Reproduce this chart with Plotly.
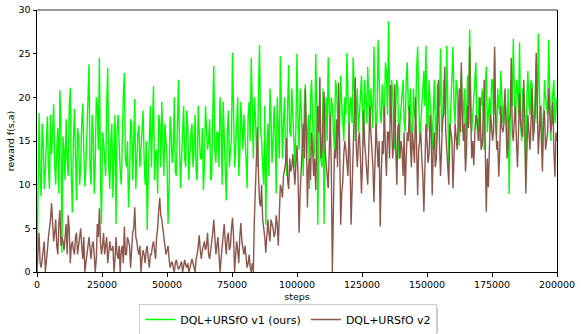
import plotly.graph_objects as go

# read every 800 steps (0 .. 200000), plus readings in between (400, 1200, ...)
steps = list(range(0, 200001, 400))

v1_ours = [
    0, 18.2, 8.7, 15, 11.5, 17.8, 9.5, 13.5, 19.2, 10, 16.5, 20.8, 2.2, 14, 17.5, 11, 21.1, 6.8, 18.7, 8.2, 15.5, 12, 19.3, 9.8, 16,
    23.8, 10, 16, 12.5, 19, 24.5, 5.5, 15, 11, 23.4, 9.5, 17, 13, 5.5, 18, 11.5, 16.5, 22.8, 12, 7.4, 17.5, 10.5, 19.8, 13, 16.8,
    14, 18.5, 10, 4.8, 16, 12, 21.3, 13.5, 9, 17, 19.5, 11, 15.5, 5.5, 17.8, 12.5, 20, 11, 22, 9.6, 16.5, 13, 18.5, 10.5, 15.8,
    12, 18, 10.5, 16, 13, 9.4, 19, 14, 17.5, 11, 23.6, 12.5, 16, 20, 10, 15, 8.2, 18.5, 13.5, 25.1, 12, 17, 11, 19.5, 14,
    16, 9.6, 19.5, 24.5, 13, 18, 12, 26, 15, 10, 5.4, 17, 21, 12.5, 19, 9, 16.5, 24.7, 13, 20, 11, 23.7, 15.5, 18, 12,
    25, 14, 19, 11, 21.5, 16, 9.5, 22, 13, 25, 5.4, 18, 12, 5.5, 20, 24.6, 16, 19, 14, 21, 15.5, 22.5, 17, 20, 25.1,
    16, 20, 24.6, 15, 21, 17.5, 22.5, 14.5, 20, 23.5, 16, 19, 25.8, 15.5, 26.6, 18, 21.5, 16.5, 23, 28.7, 17, 20.5, 14, 22, 12.9,
    19, 22, 16, 24, 18, 14, 21, 17.5, 25.8, 15, 20, 23, 25.9, 16.5, 19.5, 14, 22, 13.7, 20.5, 25.6, 17, 21, 25.9, 11.9, 19,
    25.8, 17, 21, 14.5, 23, 18, 13, 22.5, 27.8, 16, 20, 24, 15, 19.5, 21, 14, 23.5, 18, 16, 22, 25, 15.5, 19, 23, 17,
    20, 14, 8.9, 22, 26.7, 17, 21, 26.3, 15, 19.5, 10.3, 23, 18, 21.5, 16, 24, 27.3, 17.5, 13.2, 22, 19, 26.6, 15, 21, 17, 20,
]
v1_ours_mid = [
    13, 11, 17, 9.5, 15, 12, 18, 16, 12.5, 14, 9, 17, 15.5, 10.5, 13, 19, 11, 15, 13.5, 16.5, 10, 17, 14, 12, 18,
    12, 18, 9, 20, 14, 11, 16, 13, 19, 12, 15, 8.5, 18, 16, 14, 10, 20, 13, 15, 11, 17, 14.5, 9.5, 16, 12,
    17, 13, 15, 11, 19, 16, 10.5, 14, 18, 12, 15, 17, 13, 9.5, 16, 14, 11.5, 18, 15, 13, 19, 12, 16.5, 14, 17,
    14, 11.5, 19, 13, 16.5, 12, 17, 15, 10.5, 18, 14, 16, 12, 17.5, 19.5, 13, 16, 12, 15.5, 17, 14, 20, 13.5, 16, 18,
    13, 18, 15, 17, 20, 14, 21, 16, 12, 19, 14, 11, 18, 15, 16, 20, 13, 18.5, 17, 14, 19, 16, 21, 14, 17,
    17, 21, 15, 19, 13, 18, 20, 16, 14, 19, 16, 13, 21, 17, 15, 19, 20, 16, 22, 18, 17, 19.5, 15, 18, 21,
    19, 17, 21, 18.5, 16, 20, 19, 22, 17, 18, 21, 16.5, 20, 18, 22, 17, 19, 24, 18, 20, 22, 16, 19, 21, 17,
    20, 17, 22, 19, 21, 16, 18, 23, 20, 17, 21, 19, 16, 22, 18, 20, 17, 21.5, 19, 16, 22, 18, 20, 16, 21,
    19, 22, 17, 20, 16, 21, 19, 17, 21, 18, 22, 17, 20, 19, 17, 21, 16, 20, 22, 18, 17, 21, 18, 20, 19,
    18, 21, 17, 19, 20, 22, 18, 17, 21, 16, 20, 19, 22, 18, 20, 17, 21, 19, 17, 20, 18, 21, 19, 22, 18.5,
]

v2 = [
    0, 4.5, 0.5, 3, 0, 2.5, 5, 7.9, 3.5, 6, 2, 7.1, 4, 2.5, 5.5, 6.5, 1, 3.5, 2, 4.5, 3, 5, 1.5, 0, 2.5,
    4, 1.5, 3.5, 0, 5.5, 7.3, 2, 4.5, 3, 1, 3.5, 2.5, 0, 4, 1.5, 0, 3, 5.2, 2, 3.5, 0.5, 4.5, 7.4, 3.5, 2,
    0, 2.5, 1, 3, 0.5, 2, 3.5, 1.5, 5, 8.5, 6, 4, 2, 3, 0.5, 1.2, 0, 1.4, 0.3, 1, 0, 1.4, 0.5, 0, 1.2,
    1, 0, 2, 4.2, 1.5, 3, 2.5, 4.5, 1.5, 3.5, 6, 2, 4, 0, 3, 5.5, 2, 4.5, 3, 6.2, 0, 3.5, 1, 5.6, 2.5,
    3, 0.5, 2, 0, 0, 10.5, 16.6, 8, 10, 5, 2.2, 6, 3.5, 5.5, 4, 6.5, 3, 10, 8.5, 12, 15.3, 9.5, 11.5, 13.5, 10,
    14.5, 4.5, 12, 17, 21, 7.4, 13, 16, 11, 9.4, 19, 22.3, 14, 20.6, 12, 9.6, 18, 0, 14, 17.5, 21.7, 5.4, 10.3, 15, 12,
    17, 5.4, 14, 22.3, 12, 16, 9, 18.5, 13, 10, 19, 14.5, 8, 17, 12, 5.2, 15, 19, 11, 16, 21.4, 13, 21.5, 10, 17,
    15, 11, 8.8, 16, 19, 12, 14, 20, 8.8, 15.5, 13, 6.9, 17, 12.5, 18, 8.8, 16, 13, 22, 11, 17.5, 23.5, 14, 10, 16,
    9.6, 17, 14, 21, 24, 15, 11.5, 19, 25.8, 13, 12.2, 18, 16, 20, 14.5, 22, 6.9, 9.7, 18, 15, 25.8, 14, 10.9, 19, 16,
    21, 13, 17.5, 24.5, 15, 19, 12, 20.5, 16, 22, 9, 18, 14, 21, 17, 25.1, 13.5, 19, 11.5, 18.5, 15, 21, 16, 19.5, 10.9, 15,
]
v2_mid = [
    2, 1, 1.5, 3.5, 1, 4, 6, 5, 4.5, 3, 5.5, 3, 3.5, 4, 2, 5, 3, 2.5, 4, 2, 3.5, 3, 4, 1, 3,
    2.5, 3, 2, 1.5, 4, 3.5, 3, 2, 4, 2, 2.5, 3, 1.5, 2, 3, 2.5, 1, 2, 4, 3, 2.5, 5, 4, 2.5, 3,
    1.5, 2, 2.5, 1.5, 2, 3, 2.5, 4, 7, 6.5, 5, 3, 2.5, 1.5, 1, 0.5, 1, 0.8, 0.5, 1.2, 0.6, 0.8, 1, 0.4, 1.5,
    0.5, 1.5, 3, 2.5, 2.5, 3.5, 3, 2, 3, 4.5, 4, 3, 2, 1.5, 4, 3.5, 4, 2.5, 5, 4, 2, 2.5, 4, 3.5, 2,
    1.5, 1, 0.5, 1, 6, 12, 11, 7.5, 6, 4, 5, 4.5, 6, 5, 4.5, 5.5, 8, 9.5, 11, 12.5, 10.5, 13, 12, 11, 12.5,
    11, 9, 15, 13, 16, 12, 10.5, 14, 13, 15, 16, 13, 17, 14, 11, 15, 12, 7, 13, 12, 15, 9, 13.5, 14, 11,
    13, 10, 16, 14.5, 15, 13, 12.5, 15, 11, 14, 16, 12, 13, 14.5, 15, 11, 13.5, 14, 16, 13, 17, 15, 14, 16.5, 13,
    14, 16, 13, 15, 14.5, 16, 12.5, 15, 14, 16, 11, 14, 15, 13.5, 16, 14, 12, 17, 15, 14, 18, 16, 13, 17, 15,
    14, 15.5, 17, 16, 18, 17, 14, 16.5, 18, 15, 16, 17.5, 15, 14, 17, 16, 13, 14, 17, 16, 18, 15, 14, 16.5, 17,
    17, 15, 18, 16, 17.5, 15, 16, 17, 15.5, 18, 14, 16, 17, 15, 18, 17, 16, 15, 17.5, 14, 16, 18, 17, 14, 16,
]

x_ticks = [0, 25000, 50000, 75000, 100000, 125000, 150000, 175000, 200000]
y_ticks = [0, 5, 10, 15, 20, 25, 30]


def merge(main, mid):
    out = []
    for a, b in zip(main, mid):
        out += [a, b]
    out.append(main[-1])
    return out


font = 'DejaVu Sans'

fig = go.Figure()
fig.add_trace(go.Scatter(x=steps, y=merge(v1_ours, v1_ours_mid), mode='lines', name='DQL+URSfO v1 (ours)',
                         line=dict(color='#00ff00', width=1.4)))
fig.add_trace(go.Scatter(x=steps, y=merge(v2, v2_mid), mode='lines', name='DQL+URSfO v2',
                         line=dict(color='#8c564b', width=1.4)))

# gray top edge of the axes box
fig.add_shape(type='line', xref='paper', yref='paper', x0=0, x1=1, y0=1, y1=1,
              line=dict(color='#999999', width=2))
# legend shadow
fig.add_shape(type='rect', xref='paper', yref='paper', x0=0.2, x1=0.771, y0=-0.233, y1=-0.137,
              line=dict(width=0), fillcolor='#c4c4c4', layer='below')

fig.update_layout(
    font=dict(family=font, size=9.5, color='black'),
    xaxis=dict(title=dict(text='steps', font=dict(size=9.5), standoff=4),
               range=[0, 200000], tickvals=x_ticks, ticktext=[str(t) for t in x_ticks],
               showgrid=False, zeroline=False, showline=True, linecolor='black', linewidth=1,
               ticks='outside', ticklen=3.5, tickcolor='black', automargin=False),
    yaxis=dict(title=dict(text='reward f(s,a)', font=dict(size=9.5), standoff=2),
               range=[0, 30], tickvals=y_ticks,
               showgrid=False, zeroline=False, showline=True, mirror=True, linecolor='black', linewidth=1,
               ticks='outside', ticklen=3.5, tickcolor='black', automargin=False),
    legend=dict(orientation='h', x=0.483, xanchor='center', yref='container', y=0.09, yanchor='top',
                font=dict(size=11), bgcolor='white', bordercolor='#cccccc', borderwidth=1),
    plot_bgcolor='white', paper_bgcolor='white',
    margin=dict(l=37, r=24, t=10, b=62, autoexpand=False),
    width=581, height=334,
)

fig.write_html("out.html", config={'displayModeBar': False},
               post_script="document.body.style.margin='0';")
